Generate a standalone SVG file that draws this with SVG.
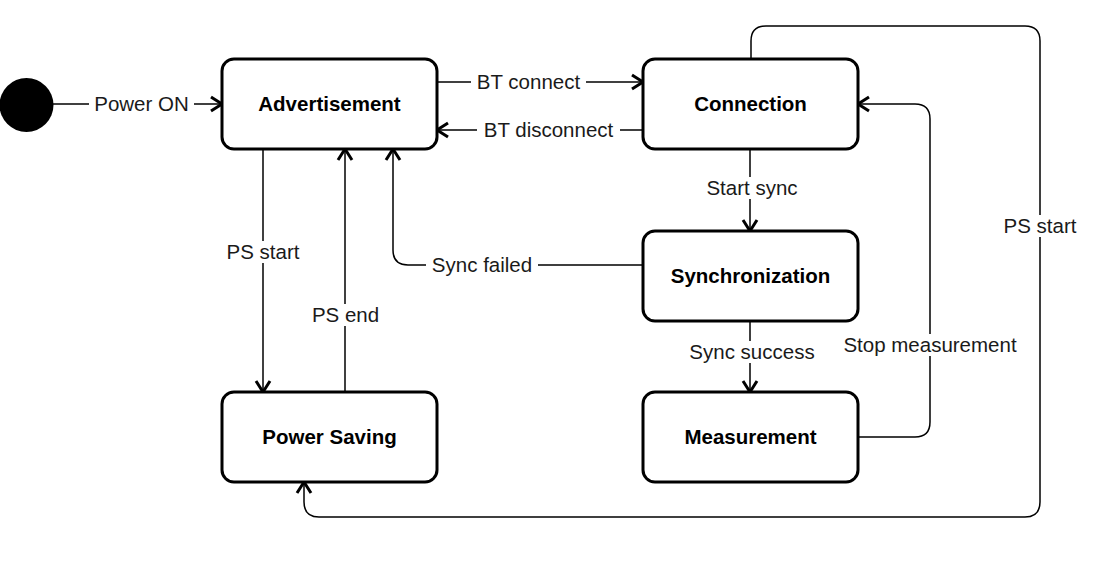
<svg xmlns="http://www.w3.org/2000/svg" width="1118" height="579" viewBox="0 0 1118 579">
<style>
.box{fill:#fff;stroke:#000;stroke-width:3}
.title{font-family:"Liberation Sans",Arial,sans-serif;font-size:20.5px;font-weight:bold;fill:#000;text-anchor:middle}
.edge{fill:none;stroke:#000;stroke-width:1.5}
.lbl{font-family:"Liberation Sans",Arial,sans-serif;font-size:20.5px;fill:#1a1a1a;text-anchor:middle}
.bg{fill:#fff}
</style>
<defs>
<marker id="arr" markerUnits="userSpaceOnUse" viewBox="-14 -10 16 20" refX="0" refY="0" markerWidth="16" markerHeight="20" orient="auto">
<path d="M-11,-7 L0,0 L-11,7" fill="none" stroke="#000" stroke-width="3"/>
</marker>
</defs>
<rect width="1118" height="579" fill="#fff"/>
<g id="connectors">
<path class="edge" d="M53,104 H222" marker-end="url(#arr)"/>
<path class="edge" d="M437,82 H643" marker-end="url(#arr)"/>
<path class="edge" d="M643,130 H437" marker-end="url(#arr)"/>
<path class="edge" d="M750,149 V231" marker-end="url(#arr)"/>
<path class="edge" d="M750,321 V392" marker-end="url(#arr)"/>
<path class="edge" d="M858,437 H915 Q930,437 930,422 V119 Q930,104 915,104 H858" marker-end="url(#arr)"/>
<path class="edge" d="M751,59 V41 Q751,26 766,26 H1025 Q1040,26 1040,41 V502 Q1040,517 1025,517 H319 Q304,517 304,502 V482" marker-end="url(#arr)"/>
<path class="edge" d="M263,149 V392" marker-end="url(#arr)"/>
<path class="edge" d="M345,392 V149" marker-end="url(#arr)"/>
<path class="edge" d="M643,265 H408 Q393,265 393,250 V149" marker-end="url(#arr)"/>
<g id="labels">
<rect class="bg" x="89" y="93" width="105" height="22"/>
<text class="lbl" x="141.5" y="111">Power ON</text>
<rect class="bg" x="471" y="71" width="115" height="22"/>
<text class="lbl" x="528.5" y="89">BT connect</text>
<rect class="bg" x="477" y="119" width="143" height="22"/>
<text class="lbl" x="548.5" y="137">BT disconnect</text>
<rect class="bg" x="701" y="177" width="102" height="22"/>
<text class="lbl" x="752" y="195">Start sync</text>
<rect class="bg" x="683" y="341" width="138" height="22"/>
<text class="lbl" x="752" y="359">Sync success</text>
<rect class="bg" x="836" y="334" width="188" height="22"/>
<text class="lbl" x="930" y="352">Stop measurement</text>
<rect class="bg" x="998" y="215" width="84" height="22"/>
<text class="lbl" x="1040" y="233">PS start</text>
<rect class="bg" x="221" y="241" width="84" height="22"/>
<text class="lbl" x="263" y="259">PS start</text>
<rect class="bg" x="307" y="304" width="77" height="22"/>
<text class="lbl" x="345.5" y="322">PS end</text>
<rect class="bg" x="426" y="254" width="112" height="22"/>
<text class="lbl" x="482" y="272">Sync failed</text>
</g>
</g>
<g id="start"><circle cx="26.5" cy="105" r="27" fill="#000"/></g>
<g id="advertisement"><rect class="box" x="222" y="59" width="215" height="90" rx="12"/><text class="title" x="329.5" y="111">Advertisement</text></g>
<g id="connection"><rect class="box" x="643" y="59" width="215" height="90" rx="12"/><text class="title" x="750.5" y="111">Connection</text></g>
<g id="synchronization"><rect class="box" x="643" y="231" width="215" height="90" rx="12"/><text class="title" x="750.5" y="283">Synchronization</text></g>
<g id="power-saving"><rect class="box" x="222" y="392" width="215" height="90" rx="12"/><text class="title" x="329.5" y="444">Power Saving</text></g>
<g id="measurement"><rect class="box" x="643" y="392" width="215" height="90" rx="12"/><text class="title" x="750.5" y="444">Measurement</text></g>
</svg>
